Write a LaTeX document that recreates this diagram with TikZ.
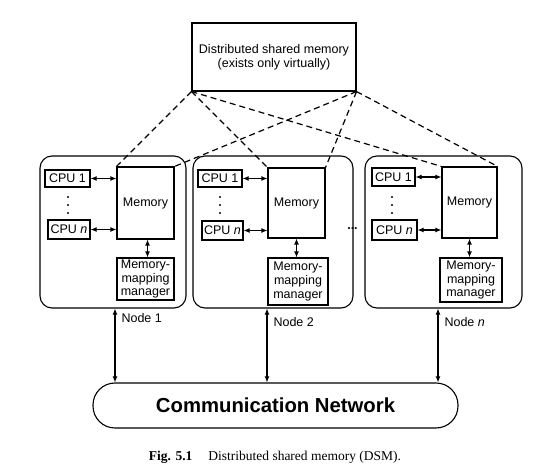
\documentclass[tikz,border=0pt]{standalone}
\usepackage{fontspec}
\setmainfont{Liberation Sans}
\newfontfamily\capfont{Liberation Serif}
\usetikzlibrary{arrows.meta}
\begin{document}
\begin{tikzpicture}[x=1pt,y=-1pt,line width=1.1pt,
  every node/.style={font=\fontsize{12.5}{13.8}\selectfont, inner sep=1pt},
  box/.style={draw, line width=1.1pt, align=center},
  container/.style={draw, line width=1.1pt, rounded corners=12pt},
  dar/.style={{Latex[length=6pt,width=5pt]}-{Latex[length=6pt,width=5pt]}, line width=1.1pt},
  dsh/.style={line width=1.2pt, dash pattern=on 6pt off 4pt},
  vdot/.style={fill=black, circle, inner sep=0pt, minimum size=2.2pt}]
\useasboundingbox (0,0) rectangle (536,470);

% shared memory
\node[box, minimum width=164pt, minimum height=68pt] (dsm) at (274,57)
  {Distributed shared memory\\(exists only virtually)};

% containers
\node[container, minimum width=146pt, minimum height=152pt] (nodea) at (113,232) {};
\node[container, minimum width=160pt, minimum height=152pt] (nodeb) at (273,232) {};
\node[container, minimum width=157pt, minimum height=152pt] (nodec) at (443.5,232) {};

% node 1
\node[box, minimum width=45pt, minimum height=17pt] (cpu1a) at (67.5,178.5) {CPU 1};
\node[box, minimum width=42pt, minimum height=19pt] (cpuna) at (69,229.5) {CPU \textit{n}};
\node[box, minimum width=57pt, minimum height=72pt] (mema) at (145.5,203) {Memory};
\node[box, minimum width=57pt, minimum height=42pt] (mmma) at (145.5,279) {Memory-\\mapping\\manager};
% node 2
\node[box, minimum width=44pt, minimum height=17pt] (cpu1b) at (220,178.5) {CPU 1};
\node[box, minimum width=41pt, minimum height=19pt] (cpunb) at (222.5,230.5) {CPU \textit{n}};
\node[box, minimum width=57pt, minimum height=70pt] (memb) at (296.5,203) {Memory};
\node[box, minimum width=60pt, minimum height=47pt] (mmmb) at (298,281.5) {Memory-\\mapping\\manager};
% node n
\node[box, minimum width=43pt, minimum height=18pt] (cpu1c) at (393.5,177) {CPU 1};
\node[box, minimum width=45pt, minimum height=20pt] (cpunc) at (394.5,230) {CPU \textit{n}};
\node[box, minimum width=55pt, minimum height=71pt] (memc) at (469.5,202.5) {Memory};
\node[box, minimum width=62pt, minimum height=44pt] (mmmc) at (471,280) {Memory-\\mapping\\manager};

% vertical dots
\foreach \x in {68,220,392}{
  \foreach \y in {197,205,213}{
    \node[vdot] at (\x,\y) {};
  }
}
\node (hdots) at (352.5,229) {\textbf{...}};

% arrows inside nodes
\foreach \c/\m in {cpu1a/mema,cpuna/mema,cpu1b/memb,cpunb/memb,cpu1c/memc,cpunc/memc}{
  \draw[dar] (\c.east) -- (\c.east -| \m.west);
}
\draw[dar] ([xshift=2pt]mema.south) -- ([xshift=2pt]mmma.north);
\draw[dar] ([xshift=0pt]memb.south) -- ([xshift=0pt]memb.south |- mmmb.north);
\draw[dar] ([xshift=0pt]memc.south) -- ([xshift=0pt]memc.south |- mmmc.north);

% dashed lines
\foreach \m in {mema,memb,memc}{
  \draw[dsh] (dsm.south west) -- (\m.north west);
  \draw[dsh] (dsm.south east) -- (\m.north east);
}

% network
\node[draw, line width=1.1pt, rounded corners=22pt, minimum width=365pt, minimum height=45pt,
  font=\fontsize{20.3}{22}\selectfont\bfseries] (net) at (275.5,405.5) {Communication Network};

\draw[dar] ([xshift=2pt]nodea.south) -- ([xshift=2pt]nodea.south |- net.north);
\draw[dar] ([xshift=-6pt]nodeb.south) -- ([xshift=-6pt]nodeb.south |- net.north);
\draw[dar] ([xshift=-5.5pt]nodec.south) -- ([xshift=-5.5pt]nodec.south |- net.north);

\node[anchor=west] (la) at (120,318) {Node 1};
\node[anchor=west] (lb) at (272,322) {Node 2};
\node[anchor=west] (lc) at (443,322) {Node \textit{n}};

% caption
\node[font=\capfont\fontsize{13.5}{15}\selectfont] (cap) at (275,457)
  {\textbf{Fig. 5.1}\hspace{16pt}Distributed shared memory (DSM).};
\end{tikzpicture}
\end{document}
